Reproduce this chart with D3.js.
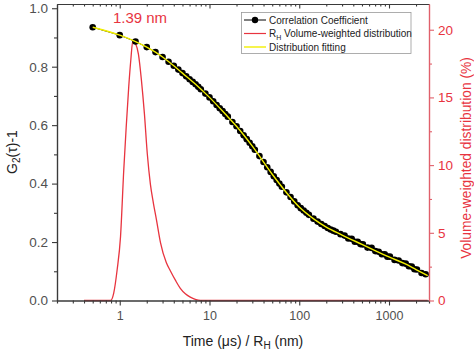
<!DOCTYPE html>
<html><head><meta charset="utf-8">
<script src="https://cdn.jsdelivr.net/npm/d3@7"></script>
<style>
html,body{margin:0;padding:0;background:#fff;}
svg{display:block;font-family:"Liberation Sans",Arial,sans-serif;}
</style></head>
<body>
<svg id="c" width="474" height="355"></svg>
<script>
// ---- data ----
const tau = [0.5,1,1.5,2,2.5,3,3.5,4,4.5,5,5.5,6,6.5,7,7.5,8,9,10,11,12,13,14,15,16,18,20,22,24,26,28,30,32,36,40,44,48,52,56,60,64,72,80,88,96,104,112,120,128,144,160,176,192,208,224,240,256,288,320,352,384,416,448,480,512,576,640,704,768,832,896,960,1024,1152,1280,1408,1536,1664,1792,1920,2048,2304,2560];
const g2 = [0.935,0.908,0.886,0.867,0.850,0.833,0.817,0.803,0.790,0.778,0.767,0.757,0.748,0.740,0.731,0.723,0.708,0.695,0.682,0.669,0.658,0.648,0.638,0.629,0.611,0.596,0.580,0.565,0.552,0.540,0.528,0.516,0.494,0.474,0.456,0.440,0.425,0.412,0.400,0.389,0.370,0.354,0.339,0.326,0.316,0.308,0.300,0.293,0.280,0.270,0.262,0.255,0.248,0.243,0.239,0.235,0.227,0.222,0.212,0.211,0.201,0.201,0.193,0.192,0.181,0.180,0.169,0.167,0.158,0.158,0.150,0.150,0.139,0.137,0.128,0.126,0.117,0.116,0.107,0.106,0.094,0.090];
const fitT = [0.5,1,1.5,2,2.5,3,4,5,7,10,15,20,30,50,70,100,150,200,300,500,700,1000,1500,2000,2700];
const fitG = [0.935,0.908,0.886,0.867,0.850,0.833,0.803,0.778,0.740,0.695,0.638,0.596,0.528,0.432,0.374,0.320,0.276,0.251,0.224,0.192,0.171,0.149,0.126,0.106,0.085];
const distR = [0.40,0.60,0.79,0.857,0.935,1.02,1.108,1.18,1.26,1.33,1.40,1.495,1.615,1.743,1.883,2.03,2.195,2.37,2.56,2.84,3.30,3.66,4.17,4.73,5.38,6.11,6.95,7.9,20,100,1000,2700];
const distV = [0,0,0,0.55,2.25,4.7,9.6,12.8,15.8,17.8,19.2,19.0,18.2,16.3,13.8,10.8,8.6,7.2,6.0,4.3,2.8,2.2,1.5,0.9,0.5,0.25,0.08,0,0,0,0,0];
const xMajor = [1,10,100,1000];
const xMinor = [0.3,0.4,0.5,0.6,0.7,0.8,0.9,2,3,4,5,6,7,8,9,20,30,40,50,60,70,80,90,200,300,400,500,600,700,800,900,2000];
const yLTicks = [0,0.2,0.4,0.6,0.8,1.0];
const yLMinor = [0.1,0.3,0.5,0.7,0.9];
const yRTicks = [0,5,10,15,20];
const yRMinor = [2.5,7.5,12.5,17.5];
const peakLabel = "1.39 nm";

// ---- setup ----
const L = 57, R = 429, T = 4, B = 300.5;
const red = "#e8343f", redAxis = "#e0606b", grey = "#505050", axisCol = "#3a3a3a";
const svg = d3.select("#c");
const x = d3.scaleLog().domain([0.2, 2790]).range([L, R]);
const yL = d3.scaleLinear().domain([0, 1.0145]).range([B, T]);
const yR = d3.scaleLinear().domain([0, 21.9]).range([B, T]);

// ---- marks ----
const distLine = d3.line().x((d,i)=>x(distR[i])).y(d=>yR(d)).curve(d3.curveMonotoneX);
svg.append("path").attr("d", distLine(distV)).attr("fill","none").attr("stroke",red).attr("stroke-width",1.3);

const dataLine = d3.line().x((d,i)=>x(tau[i])).y(d=>yL(d));
svg.append("path").attr("d", dataLine(g2)).attr("fill","none").attr("stroke","#000").attr("stroke-width",1);
svg.append("g").selectAll("circle").data(g2).join("circle")
  .attr("cx",(d,i)=>x(tau[i])).attr("cy",d=>yL(d)).attr("r",3.3).attr("fill","#000");

const fitLine = d3.line().x((d,i)=>x(fitT[i])).y(d=>yL(d)).curve(d3.curveMonotoneX);
svg.append("path").attr("d", fitLine(fitG)).attr("fill","none").attr("stroke","#f2f000").attr("stroke-width",1.4);

// ---- axes ----
function styleAxis(g, col, lblCol, size){
  g.select(".domain").attr("stroke",col).attr("stroke-width",1.2);
  g.selectAll(".tick line").attr("stroke",col).attr("stroke-width",1.1);
  g.selectAll(".tick text").attr("fill",lblCol).attr("font-size",size).attr("font-family","Liberation Sans, Arial, sans-serif");
}
// bottom
const gxm = svg.append("g").attr("transform",`translate(0,${B})`)
  .call(d3.axisBottom(x).tickValues(xMinor).tickSize(3).tickFormat(""));
styleAxis(gxm, axisCol, grey, 12);
const gx = svg.append("g").attr("transform",`translate(0,${B})`)
  .call(d3.axisBottom(x).tickValues(xMajor).tickSize(5).tickSizeOuter(0).tickPadding(6).tickFormat(d3.format("d")));
styleAxis(gx, axisCol, grey, 12.5);
// top
const gtm = svg.append("g").attr("transform",`translate(0,${T})`)
  .call(d3.axisTop(x).tickValues(xMinor).tickSize(-2.5).tickSizeOuter(0).tickFormat(""));
styleAxis(gtm, axisCol, grey, 12);
const gt = svg.append("g").attr("transform",`translate(0,${T})`)
  .call(d3.axisTop(x).tickValues(xMajor).tickSize(-4.5).tickSizeOuter(0).tickFormat(""));
styleAxis(gt, axisCol, grey, 12);
// left
const gym = svg.append("g").attr("transform",`translate(${L},0)`)
  .call(d3.axisLeft(yL).tickValues(yLMinor).tickSize(3).tickSizeOuter(0).tickFormat(""));
styleAxis(gym, axisCol, grey, 13);
const gy = svg.append("g").attr("transform",`translate(${L},0)`)
  .call(d3.axisLeft(yL).tickValues(yLTicks).tickSize(5).tickSizeOuter(0).tickPadding(4).tickFormat(d3.format(".1f")));
styleAxis(gy, axisCol, grey, 13.5);
// right
const grm = svg.append("g").attr("transform",`translate(${R},0)`)
  .call(d3.axisRight(yR).tickValues(yRMinor).tickSize(3).tickSizeOuter(0).tickFormat(""));
styleAxis(grm, redAxis, red, 13);
const gr = svg.append("g").attr("transform",`translate(${R},0)`)
  .call(d3.axisRight(yR).tickValues(yRTicks).tickSize(5).tickSizeOuter(0).tickPadding(4).tickFormat(d3.format("d")));
styleAxis(gr, redAxis, red, 13.5);

// ---- labels ----
svg.append("text").attr("x",140).attr("y",23).attr("text-anchor","middle")
  .attr("fill",red).attr("font-size",15).text(peakLabel);

const xl = svg.append("text").attr("x",243).attr("y",346).attr("text-anchor","middle")
  .attr("fill","#222").attr("font-size",14);
xl.append("tspan").text("Time (μs) / R");
xl.append("tspan").attr("font-size",10).attr("dy",3).text("H");
xl.append("tspan").attr("dy",-3).text(" (nm)");

const yl = svg.append("text").attr("transform","translate(17,152) rotate(-90)").attr("text-anchor","middle")
  .attr("fill","#222").attr("font-size",14);
yl.append("tspan").text("G");
yl.append("tspan").attr("font-size",10).attr("dy",3).text("2");
yl.append("tspan").attr("dy",-3).text("(τ)-1");

svg.append("text").attr("transform","translate(471,158) rotate(-90)").attr("text-anchor","middle")
  .attr("fill",red).attr("font-size",13.8).text("Volume-weighted distribution (%)");

// ---- legend ----
const lg = svg.append("g");
lg.append("rect").attr("x",241.5).attr("y",12.5).attr("width",169.5).attr("height",41)
  .attr("fill","#fff").attr("stroke","#9a9a9a").attr("stroke-width",0.8);
const rows = [20,33.5,47];
lg.append("line").attr("x1",244).attr("x2",266).attr("y1",rows[0]).attr("y2",rows[0]).attr("stroke","#000").attr("stroke-width",1);
lg.append("circle").attr("cx",255).attr("cy",rows[0]).attr("r",3.2).attr("fill","#000");
lg.append("line").attr("x1",244).attr("x2",266).attr("y1",rows[1]).attr("y2",rows[1]).attr("stroke",red).attr("stroke-width",1.2);
lg.append("line").attr("x1",244).attr("x2",266).attr("y1",rows[2]).attr("y2",rows[2]).attr("stroke","#f2f000").attr("stroke-width",1.4);
lg.append("text").attr("x",269).attr("y",rows[0]+3.5).attr("font-size",10).attr("fill","#222").text("Correlation Coefficient");
const t2 = lg.append("text").attr("x",269).attr("y",rows[1]+3.5).attr("font-size",10).attr("fill","#222");
t2.append("tspan").text("R");
t2.append("tspan").attr("font-size",7).attr("dy",2.5).text("H");
t2.append("tspan").attr("dy",-2.5).text(" Volume-weighted distribution");
lg.append("text").attr("x",269).attr("y",rows[2]+3.5).attr("font-size",10).attr("fill","#222").text("Distribution fitting");
</script>
</body></html>
